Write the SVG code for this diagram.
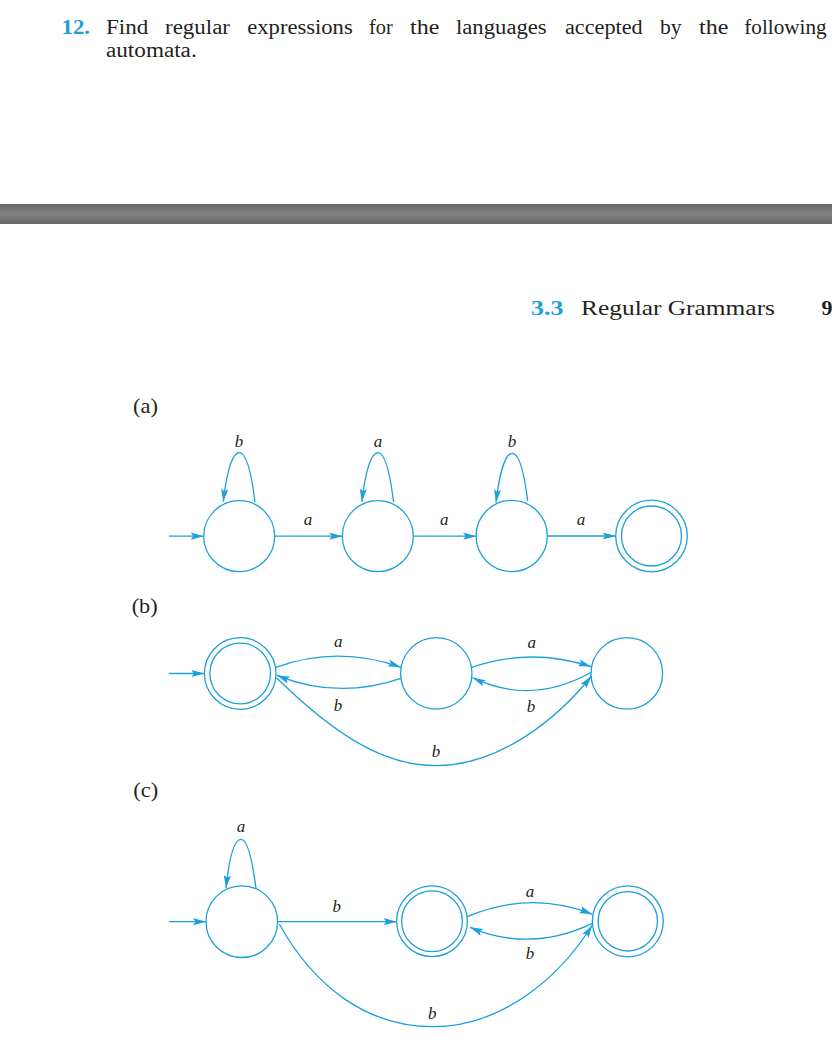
<svg xmlns="http://www.w3.org/2000/svg" width="832" height="1040" viewBox="0 0 832 1040">
<style>
.txt{font-family:"Liberation Serif","Times New Roman",serif;fill:#231f20}
.hd{font-size:20.5px}
.num{font-family:"Liberation Serif","Times New Roman",serif;font-weight:bold;fill:#1ba0da}
.part{font-family:"Liberation Serif","Times New Roman",serif;font-size:21px;fill:#231f20}
.lbl{font-family:"Liberation Serif","Times New Roman",serif;font-style:italic;font-size:17px;fill:#231f20;text-anchor:middle}
.st{fill:none;stroke:#1ba0da;stroke-width:1.3}
.edge{fill:none;stroke:#1ba0da;stroke-width:1.3;marker-end:url(#arr)}
.line{fill:none;stroke:#1ba0da;stroke-width:1.3}
</style>
<defs>
<marker id="arr" markerUnits="userSpaceOnUse" viewBox="-14 -5 15 10" refX="0" refY="0" markerWidth="15" markerHeight="10" orient="auto">
<path d="M0,0 L-13,-3.6 L-10.5,0 L-13,3.6 Z" fill="#1ba0da"/>
</marker>
<linearGradient id="bar" x1="0" y1="0" x2="0" y2="1">
<stop offset="0" stop-color="#686868"/>
<stop offset="0.5" stop-color="#818181"/>
<stop offset="1" stop-color="#676767"/>
</linearGradient>
</defs>
<rect width="832" height="1040" fill="#ffffff"/>

<g id="exercise">
<text class="num" x="61.5" y="34" font-size="20.5" textLength="28.5" lengthAdjust="spacingAndGlyphs">12.</text>
<g class="txt hd">
<text x="106" y="34" textLength="42.3" lengthAdjust="spacingAndGlyphs">Find</text>
<text x="165" y="34" textLength="65" lengthAdjust="spacingAndGlyphs">regular</text>
<text x="247.3" y="34" textLength="105.4" lengthAdjust="spacingAndGlyphs">expressions</text>
<text x="369" y="34" textLength="23.7" lengthAdjust="spacingAndGlyphs">for</text>
<text x="410" y="34" textLength="29.3" lengthAdjust="spacingAndGlyphs">the</text>
<text x="456" y="34" textLength="90.7" lengthAdjust="spacingAndGlyphs">languages</text>
<text x="565" y="34" textLength="77.7" lengthAdjust="spacingAndGlyphs">accepted</text>
<text x="660" y="34" textLength="21.7" lengthAdjust="spacingAndGlyphs">by</text>
<text x="699" y="34" textLength="29.3" lengthAdjust="spacingAndGlyphs">the</text>
<text x="744.3" y="34" textLength="82.4" lengthAdjust="spacingAndGlyphs">following</text>
<text x="106" y="56.7" textLength="90.7" lengthAdjust="spacingAndGlyphs">automata.</text>
</g>
</g>

<rect id="pagebar" x="0" y="204" width="832" height="20" fill="url(#bar)"/>

<g id="running-head">
<text class="num" x="531" y="315" font-size="22" textLength="32.3" lengthAdjust="spacingAndGlyphs">3.3</text>
<text class="txt" x="581" y="315" font-size="22" textLength="194" lengthAdjust="spacingAndGlyphs">Regular Grammars</text>
<text class="txt" x="821.5" y="315" font-size="22" font-weight="bold">9</text>
</g>

<!-- (a) -->
<text class="part" x="133" y="413" textLength="25" lengthAdjust="spacingAndGlyphs">(a)</text>
<g id="a-q0"><circle class="st" cx="239.2" cy="536.2" r="35.5"/></g>
<g id="a-q1"><circle class="st" cx="377.8" cy="536.2" r="35.5"/></g>
<g id="a-q2"><circle class="st" cx="511.7" cy="536" r="35.6"/></g>
<g id="a-q3"><circle class="st" cx="651.5" cy="536" r="35.8"/><circle class="st" cx="651.5" cy="536" r="30"/></g>
<g id="a-edges">
<path class="edge" d="M169,536.2 L203.7,536.2"/>
<path class="edge" d="M274.7,536.2 L342.3,536.2"/>
<path class="edge" d="M413.3,536.2 L476.1,536.2"/>
<path class="edge" d="M547.3,536 L615.7,536"/>
<path class="edge" d="M255,502.3 C252,478 247,452.7 239.3,452.7 C231.5,452.7 226,477 223.3,501.7"/>
<path class="edge" d="M393.6,502.3 C390.6,478 385.6,452.7 377.9,452.7 C370.1,452.7 364.6,477 361.9,501.7"/>
<path class="edge" d="M527.7,501 C524.7,477 519.7,453.3 512.3,453.3 C504.6,453.3 499,477 496,502.5"/>
<text class="lbl" x="239" y="447">b</text>
<text class="lbl" x="378" y="447">a</text>
<text class="lbl" x="512" y="447">b</text>
<text class="lbl" x="308" y="525">a</text>
<text class="lbl" x="444.3" y="525">a</text>
<text class="lbl" x="581" y="525">a</text>
</g>

<!-- (b) -->
<text class="part" x="131.7" y="612.7" textLength="26" lengthAdjust="spacingAndGlyphs">(b)</text>
<g id="b-q0"><circle class="st" cx="240.2" cy="673.5" r="35.8"/><circle class="st" cx="240.2" cy="673.5" r="30.3"/></g>
<g id="b-q1"><circle class="st" cx="436.3" cy="673.4" r="35.7"/></g>
<g id="b-q2"><circle class="st" cx="626.8" cy="673.4" r="35.8"/></g>
<g id="b-edges">
<path class="edge" d="M169,673.5 L204.4,673.5"/>
<path class="edge" d="M276,667.3 Q338,645 400.8,667.3"/>
<path class="edge" d="M400.8,678.3 Q338,700 276.7,675.3"/>
<path class="edge" d="M472,667.3 Q531,647 591.2,666.7"/>
<path class="edge" d="M591.2,672.3 Q531,706 472.7,677.7"/>
<path class="edge" d="M276.7,678 C330,730 380,765.7 436,765.7 C500,765.7 558,718 591.5,676"/>
<text class="lbl" x="338.3" y="647.3">a</text>
<text class="lbl" x="338" y="711">b</text>
<text class="lbl" x="531.7" y="648.3">a</text>
<text class="lbl" x="531" y="711.7">b</text>
<text class="lbl" x="436" y="757">b</text>
</g>

<!-- (c) -->
<text class="part" x="133.3" y="797" textLength="25" lengthAdjust="spacingAndGlyphs">(c)</text>
<g id="c-q0"><circle class="st" cx="241.8" cy="921.7" r="35.8"/></g>
<g id="c-q1"><circle class="st" cx="432" cy="921.3" r="35.4"/><circle class="st" cx="432" cy="921.3" r="30.4"/></g>
<g id="c-q2"><circle class="st" cx="627.8" cy="921.3" r="35.5"/><circle class="st" cx="627.8" cy="921.3" r="29.7"/></g>
<g id="c-edges">
<path class="edge" d="M169,921.7 L206,921.7"/>
<path class="edge" d="M277.6,921.7 L396.6,921.7"/>
<path class="edge" d="M256,888.3 C253,865 248,839.3 241,839.3 C233,839.3 228.5,864 226,888.3"/>
<path class="edge" d="M467.3,916.7 Q530,890 592.3,914.3"/>
<path class="edge" d="M592.3,923.3 Q530,953 470,927.3"/>
<path class="edge" d="M279.3,924 C316,990 370,1026.7 433,1026.7 C500,1026.7 558,980 592.3,925"/>
<text class="lbl" x="241" y="832.3">a</text>
<text class="lbl" x="336.7" y="912.3">b</text>
<text class="lbl" x="530" y="897.3">a</text>
<text class="lbl" x="530" y="959.3">b</text>
<text class="lbl" x="432.3" y="1019">b</text>
</g>
</svg>
